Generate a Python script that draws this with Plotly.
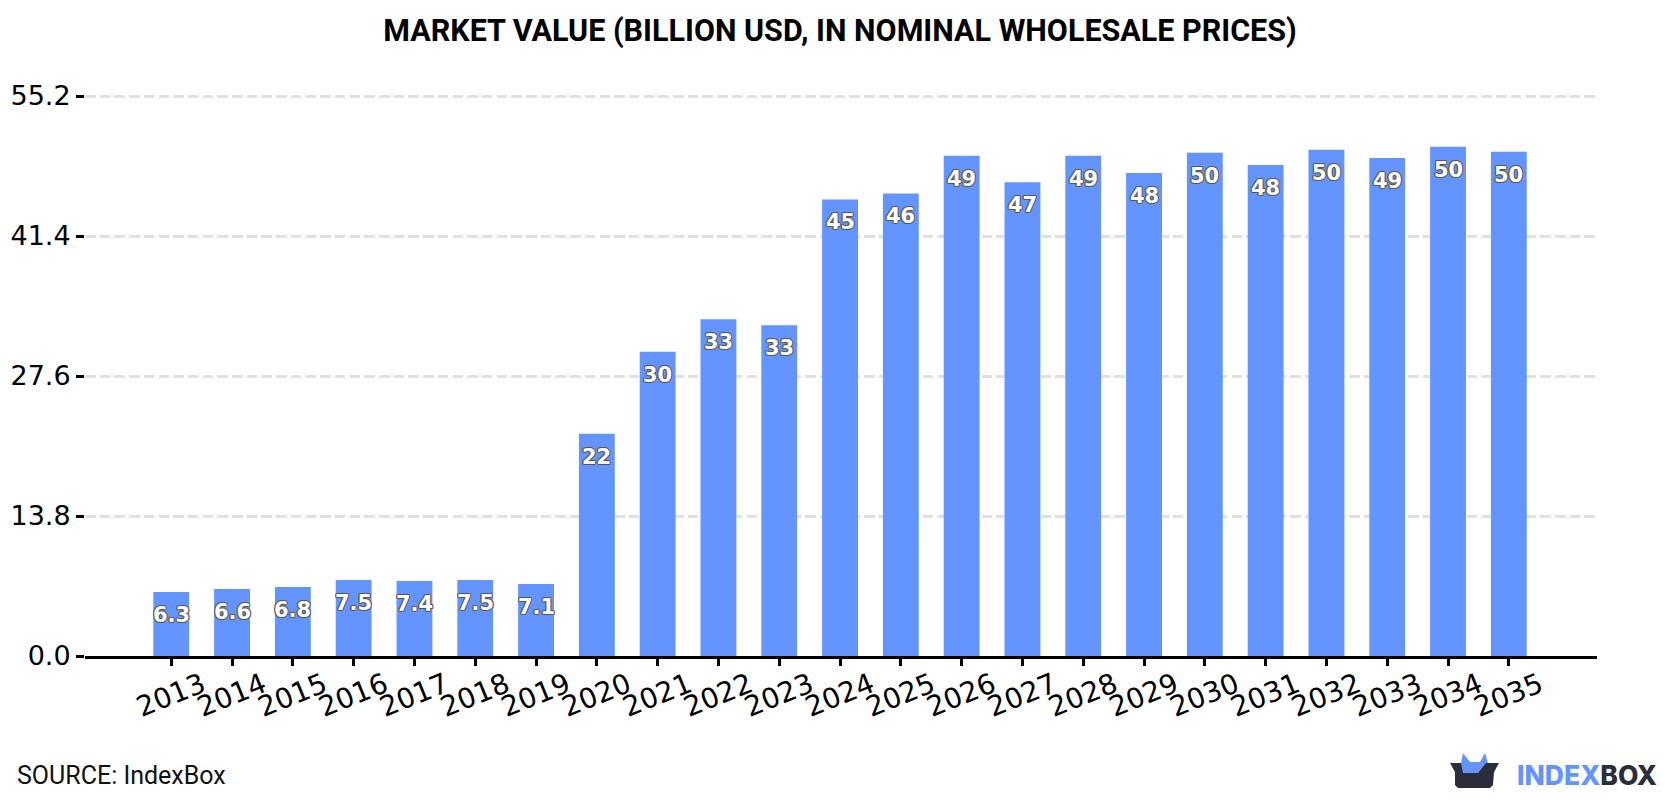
import plotly.graph_objects as go

# Market value per year, billion USD
years = [2013, 2014, 2015, 2016, 2017, 2018, 2019, 2020, 2021, 2022, 2023, 2024,
         2025, 2026, 2027, 2028, 2029, 2030, 2031, 2032, 2033, 2034, 2035]
values = [6.3, 6.6, 6.8, 7.5, 7.4, 7.5, 7.1, 21.9, 30.0, 33.2, 32.6, 45.0,
          45.6, 49.3, 46.7, 49.3, 47.6, 49.6, 48.4, 49.9, 49.1, 50.2, 49.7]
value_labels = ["6.3", "6.6", "6.8", "7.5", "7.4", "7.5", "7.1", "22", "30", "33", "33", "45",
                "46", "49", "47", "49", "48", "50", "48", "50", "49", "50", "50"]
y_ticks = [0.0, 13.8, 27.6, 41.4, 55.2]
y_tick_labels = ["0.0", "13.8", "27.6", "41.4", "55.2"]

WIDTH, HEIGHT = 1680, 800
LEFT, RIGHT, TOP, BOTTOM = 85, 83, 94, 144
Y_MAX = 55.2 * 562 / 560  # two spare pixels keep the top gridline from being clipped
BLUE = "#6394ff"
DARK = "#2b2d3a"
AXIS_FONT = "DejaVu Sans"
OUTLINE = ("-1px 0 0 #555, 1px 0 0 #555, 0 -1px 0 #555, 0 1px 0 #555, "
           "-1px -1px 0 #777, 1px -1px 0 #777, -1px 1px 0 #777, 1px 1px 0 #777")


def px(x):
    return (x - LEFT) / (WIDTH - LEFT - RIGHT)


def py(y):
    return 1 - (y - TOP) / (HEIGHT - TOP - BOTTOM)


def path(points):
    return "M " + " L ".join(f"{px(x):.5f} {py(y):.5f}" for x, y in points) + " Z"


fig = go.Figure(go.Bar(x=years, y=values, width=0.59, marker=dict(color=BLUE, line_width=0)))

# Value labels sit just inside the top of each bar
for year, value, label in zip(years, values, value_labels):
    fig.add_annotation(
        x=year, y=value, xref="x", yref="y", text=label, showarrow=False,
        yanchor="middle", yshift=-23,
        font=dict(family=AXIS_FONT, size=21, color="white", weight="bold", shadow=OUTLINE),
    )

fig.add_annotation(
    x=px(15), y=py(775), xref="paper", yref="paper", xanchor="left", yanchor="middle",
    text="SOURCE: IndexBox", showarrow=False,
    font=dict(family="Roboto", size=25, color="#111111"),
)

# Wordmark
fig.add_annotation(
    x=px(1515), y=py(775), xref="paper", yref="paper", xanchor="left", yanchor="middle",
    text=f'<span style="color:{BLUE}">INDEX</span><span style="color:{DARK}">BOX</span>',
    showarrow=False, font=dict(family="Inter", size=26.5, weight=800),
)

# Box emblem
logo_shapes = [
    dict(points=[(1461, 763), (1463, 753), (1470, 762), (1480, 762), (1485, 753), (1488, 763),
                 (1478, 773), (1461, 773)], color=BLUE),
    dict(points=[(1450, 763), (1461, 763), (1463, 773), (1478, 773), (1486, 763), (1499, 763),
                 (1494, 772), (1493, 785), (1490, 788), (1458, 788), (1455, 785), (1455, 772)],
         color=DARK),
]
for shape in logo_shapes:
    fig.add_shape(type="path", xref="paper", yref="paper", path=path(shape["points"]),
                  fillcolor=shape["color"], line_width=0, layer="above")

fig.update_layout(
    width=WIDTH, height=HEIGHT,
    margin=dict(l=LEFT, r=RIGHT, t=TOP, b=BOTTOM, pad=0),
    paper_bgcolor="white", plot_bgcolor="white", showlegend=False,
    title=dict(
        text="MARKET VALUE (BILLION USD, IN NOMINAL WHOLESALE PRICES)",
        x=840 / WIDTH, xanchor="center", xref="container", y=1 - 30 / HEIGHT, yanchor="middle",
        font=dict(family="Roboto", size=30.5, color="black", weight="bold"),
    ),
)

fig.update_xaxes(
    automargin=False,
    range=[2013 - 1.419, 2013 + 23.45], tickmode="array", tickvals=years,
    ticktext=[str(y) for y in years], tickangle=-22, ticklabelshift=31, ticklabelstandoff=-8,
    ticks="outside", ticklen=7, tickwidth=2.5, tickcolor="black",
    showline=True, linecolor="black", linewidth=3, showgrid=False, zeroline=False,
    tickfont=dict(family=AXIS_FONT, size=28, color="black"),
)
fig.update_yaxes(
    automargin=False,
    range=[0, Y_MAX], tickmode="array", tickvals=y_ticks, ticktext=y_tick_labels,
    ticks="outside", ticklen=8, tickwidth=2.5, tickcolor="black", ticklabelstandoff=0,
    showline=False, showgrid=True, gridcolor="#e0e0e0", gridwidth=2.5, griddash="10.5px,4.2px",
    zeroline=False,
    tickfont=dict(family=AXIS_FONT, size=27, color="black"),
)

fig.write_html("out.html")
